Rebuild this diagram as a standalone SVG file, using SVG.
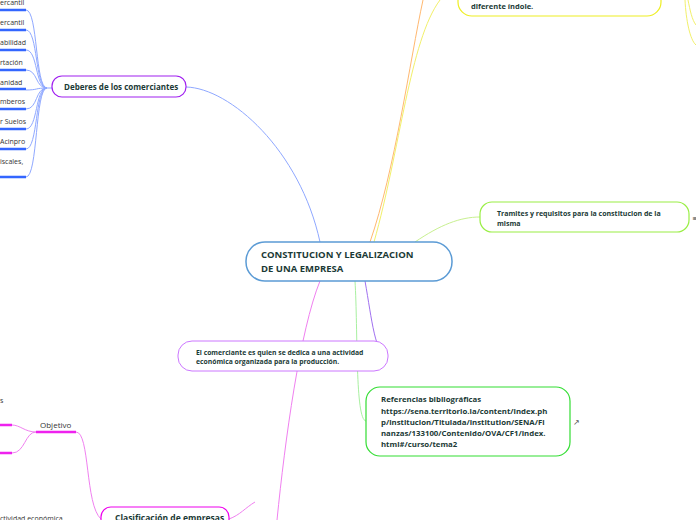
<svg xmlns="http://www.w3.org/2000/svg" width="696" height="520" viewBox="0 0 696 520">
<style>
.t{font-family:"Open Sans","Noto Sans",sans-serif;font-weight:bold;fill:#1b3a36}
.s{font-family:"Open Sans","Noto Sans",sans-serif;font-size:7px;fill:#333}
.c{fill:none;stroke-width:1}
.u{stroke-width:2.5}
</style>
<rect width="696" height="520" fill="#fff"/>
<g id="connectors">
<path class="c" stroke="#8fa8ff" d="M320 242 C300 150 230 88 186 87"/>
<path class="c" stroke="#ffb870" d="M370 242 C395 170 410 60 423 0"/>
<path class="c" stroke="#f2f06a" d="M374 242 C400 150 410 40 440 0"/>
<path class="c" stroke="#c8f090" d="M415 242 C440 225 460 217 480 217"/>
<path class="c" stroke="#a070f0" d="M365 281 C372 320 375 356 388 356"/>
<path class="c" stroke="#a8f0a0" d="M355 281 C358 330 355 420 366 421"/>
<path class="c" stroke="#f080f0" d="M320 281 C300 330 285 440 277 520"/>
<path class="c" stroke="#f080f0" d="M229 519 C240 515 245 508 255 502"/>
<path class="c" stroke="#f2f06a" d="M685 0 C686 20 690 40 696 45"/>
<path class="c" stroke="#f2f06a" d="M688 0 C690 10 692 20 696 25"/>
<g stroke="#8fa8ff" class="c">
<path d="M47 88 C35 88 38 10 26 10"/><path d="M47 88 C35 88 38 30 26 30"/><path d="M47 88 C35 88 38 50 26 50"/><path d="M47 88 C35 88 38 70 26 70"/><path d="M47 88 C35 88 38 90 26 90"/><path d="M47 88 C35 88 38 109 26 109"/><path d="M47 88 C35 88 38 129 26 129"/><path d="M47 88 C35 88 38 149 26 149"/><path d="M47 88 C35 88 38 177 26 177"/>
<path d="M47 88 L52 88"/>
</g>
<g stroke="#3366ff" class="u">
<path d="M0 10H26M0 30H26M0 50H26M0 70H26M0 89H26M0 109H26M0 129H26M0 149H26M0 177H26"/>
</g>
<path class="c" stroke="#f080f0" d="M76 432 C90 432 85 505 101 519"/>
<path class="c" stroke="#f080f0" d="M36 432 C25 432 20 425 12 425"/>
<path class="c" stroke="#f080f0" d="M36 432 C25 432 25 453 12 453"/>
<path stroke="#ee22ee" class="u" d="M36 432H76M0 425H12M0 453H12"/>
</g>
<g id="n-deberes"><rect x="52" y="76" width="134" height="21" rx="10" fill="#fff" stroke="#a020f0" stroke-width="1.2"/><text class="t" x="64" y="90" font-size="8">Deberes de los comerciantes</text></g>
<g id="n-list" class="s">
<text x="0" y="5">ercantil</text><text x="0" y="25">ercantil</text><text x="0" y="45">abilidad</text><text x="0" y="65">rtación</text><text x="0" y="85">anidad</text><text x="0" y="104">mberos</text><text x="0" y="124">r Suelos</text><text x="0" y="144">Acinpro</text><text x="0" y="164">iscales,</text>
<text x="0" y="403">s</text><text x="0" y="521">ctividad económica</text>
</g>
<g id="n-main"><rect x="246" y="242" width="206" height="39" rx="19" fill="#fff" stroke="#5b9bd5" stroke-width="1.5"/><text class="t" x="261" y="258" font-size="9.5" fill="#1c2e50">CONSTITUCION Y LEGALIZACION</text><text class="t" x="261" y="272" font-size="9.5" fill="#1c2e50">DE UNA EMPRESA</text></g>
<g id="n-top"><rect x="458" y="-30" width="203" height="46" rx="14" fill="#fff" stroke="#eeee22" stroke-width="1.2"/><text class="t" x="471" y="9" font-size="7.5">diferente índole.</text></g>
<g id="n-tramites"><rect x="480" y="202" width="209" height="30" rx="12" fill="#fff" stroke="#99ee44" stroke-width="1.2"/><text class="t" x="497" y="216" font-size="7">Tramites y requisitos para la constitucion de la</text><text class="t" x="497" y="226" font-size="7">misma</text><text x="692" y="221" font-size="8" fill="#333" font-family="DejaVu Sans,sans-serif">≡</text></g>
<g id="n-comerciante"><rect x="178" y="341" width="210" height="30" rx="14" fill="#fff" stroke="#cc77ff" stroke-width="1"/><text class="t" x="196" y="355" font-size="6.8">El comerciante es quien se dedica a una actividad</text><text class="t" x="196" y="364" font-size="6.8">económica organizada para la producción.</text></g>
<g id="n-ref"><rect x="366" y="387" width="204" height="69" rx="14" fill="#fff" stroke="#33dd33" stroke-width="1.2"/>
<g class="t" font-size="7.8"><text x="381" y="402">Referencias bibliográficas</text><text x="381" y="414">https://sena.territorio.la/content/index.ph</text><text x="381" y="425">p/institucion/Titulada/institution/SENA/Fi</text><text x="381" y="436">nanzas/133100/Contenido/OVA/CF1/index.</text><text x="381" y="447">html#/curso/tema2</text></g>
<text x="573" y="425" font-size="8" fill="#555" font-family="DejaVu Sans,sans-serif">↗</text></g>
<g id="n-objetivo"><text x="40" y="428" font-family="Open Sans,sans-serif" font-size="8" fill="#333">Objetivo</text></g>
<g id="n-clasif"><rect x="101" y="507" width="128" height="30" rx="10" fill="#fff" stroke="#ee00ee" stroke-width="1.2"/><text class="t" x="115" y="521" font-size="8.5">Clasificación de empresas</text></g>
</svg>
